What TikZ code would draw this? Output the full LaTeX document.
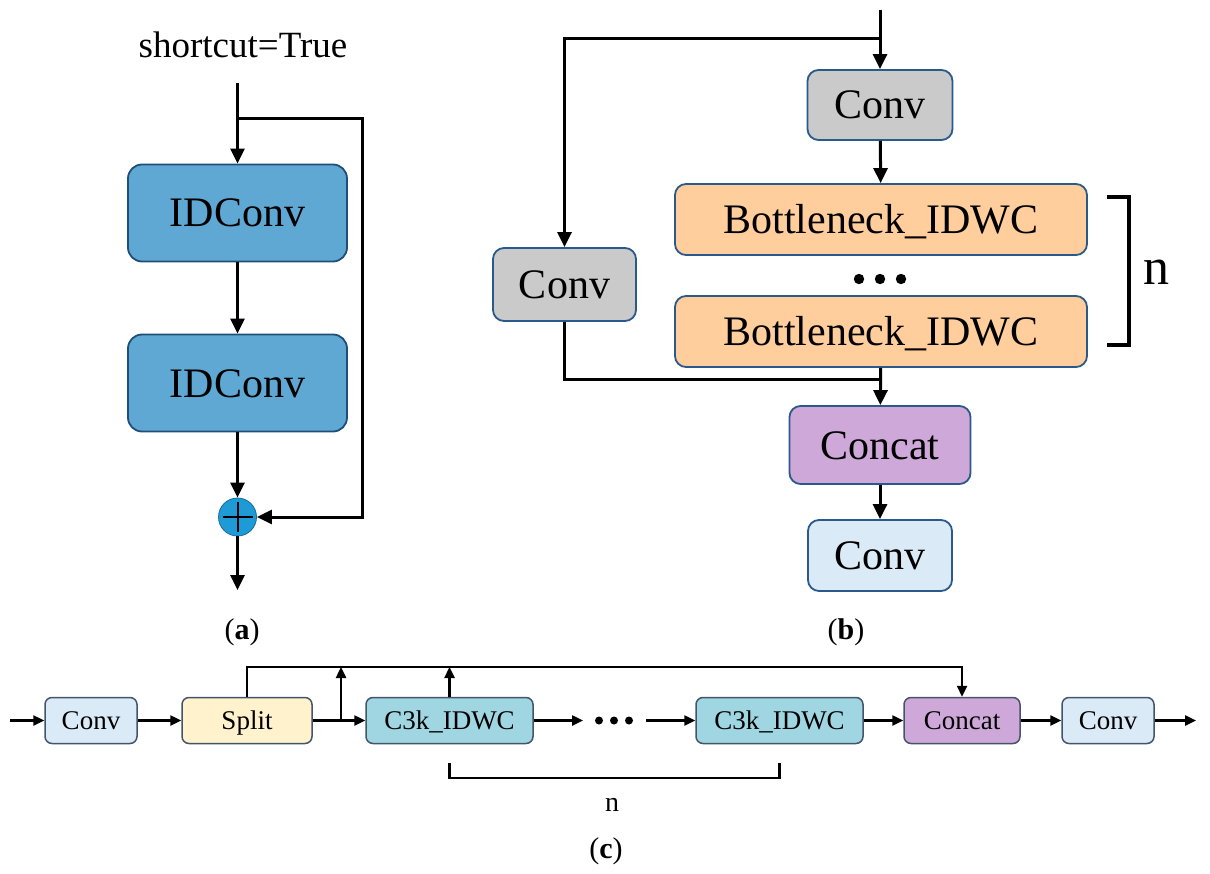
\documentclass[tikz,border=0pt]{standalone}
\usepackage{fontspec}
\setmainfont{Liberation Serif}
\usetikzlibrary{arrows.meta,calc}
\definecolor{idfill}{HTML}{60A8D4}
\definecolor{idline}{HTML}{1F4E79}
\definecolor{plusfill}{HTML}{1E9AD6}
\definecolor{grayfill}{HTML}{CACACA}
\definecolor{bline}{HTML}{2A5A8C}
\definecolor{orfill}{HTML}{FFCE9C}
\definecolor{purfill}{HTML}{CDA8D8}
\definecolor{ltblue}{HTML}{DAEAF7}
\definecolor{splitfill}{HTML}{FFF2CC}
\definecolor{tealfill}{HTML}{9FD6E2}
\definecolor{cline}{HTML}{44546A}
\begin{document}
\begin{tikzpicture}[x=1pt,y=-1pt,
  big/.style={font=\fontsize{42}{48}\selectfont, text height=28pt, text depth=0pt},
  small/.style={font=\fontsize{27}{30}\selectfont, text height=18pt, text depth=0pt},
  blkA/.style={rectangle, rounded corners=14pt, line width=1.8pt, draw=idline, fill=idfill, inner sep=0pt, big, minimum width=219pt, minimum height=97pt},
  blkB/.style={rectangle, rounded corners=11pt, line width=1.8pt, draw=bline, inner sep=0pt, big},
  blkC/.style={rectangle, rounded corners=7pt, line width=1.5pt, draw=cline, inner sep=0pt, small, minimum height=46pt},
  arr/.style={-{Triangle[length=15pt,width=14pt]}, line width=3pt},
  ln/.style={line width=3pt},
  arrc/.style={-{Triangle[length=11pt,width=10pt]}, line width=2.4pt},
  lnc/.style={line width=2.4pt},
  lbl/.style={font=\fontsize{30}{34}\selectfont}
]
\useasboundingbox (0,0) rectangle (1210,874);

% ---------------- (a)
\node[font=\fontsize{37}{40}\selectfont] (sc) at (243,45) {shortcut=True};
\node[blkA] (id1) at (237.5,213) {IDConv};
\node[blkA] (id2) at (237.5,383) {IDConv};
\node[circle, minimum size=38pt, inner sep=0pt, fill=plusfill, draw=plusfill!70!black, line width=0.8pt] (plus) at (237.5,517) {};
\draw[line width=2pt] ($(plus.center)+(-15,0)$) -- ($(plus.center)+(15,0)$);
\draw[line width=2pt] ($(plus.center)+(0,-15)$) -- ($(plus.center)+(0,15)$);
\coordinate (ain) at (237.5,83);
\coordinate (abr) at (237.5,119);
\coordinate (ar) at (362,119);
\coordinate (aout) at (237.5,590);
\draw[arr] (ain) -- (id1.north);
\draw[arr] (abr) -- (ar) |- (plus.east);
\draw[arr] (id1) -- (id2);
\draw[arr] (id2) -- (plus);
\draw[arr] (plus) -- (aout);
\node[lbl] (la) at (242,632) {(\textbf{a})};

% ---------------- (b)
\node[blkB, fill=grayfill, minimum width=145pt, minimum height=70pt] (bc1) at (880,105) {Conv};
\node[blkB, fill=orfill, minimum width=412pt, minimum height=71pt] (bn1) at (881,219.5) {Bottleneck\_IDWC};
\node[blkB, fill=orfill, minimum width=412pt, minimum height=71pt] (bn2) at (881,331.5) {Bottleneck\_IDWC};
\node[blkB, fill=grayfill, minimum width=143pt, minimum height=73pt] (bcl) at (564.5,284.5) {Conv};
\node[blkB, fill=purfill, minimum width=181pt, minimum height=78pt] (bcat) at (880,445) {Concat};
\node[blkB, fill=ltblue, minimum width=144pt, minimum height=71pt] (bc2) at (880,555.5) {Conv};
\foreach \xx in {859,880,901} \fill (\xx,279) circle (5.2pt);
\coordinate (bin) at (880,10);
\coordinate (bbr) at (880,39);
\coordinate (bjoin) at (880,380);
\draw[arr] (bin) -- (bc1);
\draw[arr] (bbr) -| (bcl.north);
\draw[arr] (bc1) -- (bn1);
\draw[arr] (bn2) -- (bcat);
\draw[ln] (bcl.south) |- (bjoin);
\draw[arr] (bcat) -- (bc2);
\draw[line width=4pt] (1107,197) -- (1129,197) -- (1129,345) -- (1107,345);
\node[font=\fontsize{52}{56}\selectfont] (bn) at (1156,272) {n};
\node[lbl] (lb) at (846,632) {(\textbf{b})};

% ---------------- (c)
\node[blkC, fill=ltblue, minimum width=92pt] (cc1) at (91,720.5) {Conv};
\node[blkC, fill=splitfill, minimum width=130pt] (csp) at (247,720.5) {Split};
\node[blkC, fill=tealfill, minimum width=167pt] (ck1) at (449.5,720.5) {C3k\_IDWC};
\node[blkC, fill=tealfill, minimum width=167pt] (ck2) at (779.5,720.5) {C3k\_IDWC};
\node[blkC, fill=purfill, minimum width=116pt] (ccat) at (962,720.5) {Concat};
\node[blkC, fill=ltblue, minimum width=92pt] (cc2) at (1108,720.5) {Conv};
\foreach \xx in {599,614,629} \fill (\xx,720.5) circle (4pt);
\coordinate (cin) at (10,720.5);
\coordinate (cout) at (1196,720.5);
\coordinate (cbr) at (341,720.5);
\coordinate (ctl) at (247,667);
\coordinate (ctr) at (962,667);
\coordinate (cd1) at (583,720.5);
\coordinate (cd2) at (646,720.5);
\draw[arrc] (cin) -- (cc1);
\draw[arrc] (cc1) -- (csp);
\draw[arrc] (csp) -- (ck1);
\draw[arrc] (ck1) -- (cd1);
\draw[arrc] (cd2) -- (ck2);
\draw[arrc] (ck2) -- (ccat);
\draw[arrc] (ccat) -- (cc2);
\draw[arrc] (cc2) -- (cout);
\draw[arrc] (csp.north) -- (ctl) -- (ctr) -- (ccat.north);
\draw[arrc] (cbr) -- (cbr |- ctl);
\draw[arrc] (ck1.north) -- (ck1.north |- ctl);
\draw[lnc] (449.5,763) -- (449.5,778) -- (779.5,778) -- (779.5,763);
\node[font=\fontsize{28}{32}\selectfont] (cn) at (612,805) {n};
\node[lbl] (lc) at (606,851) {(\textbf{c})};
\end{tikzpicture}
\end{document}
